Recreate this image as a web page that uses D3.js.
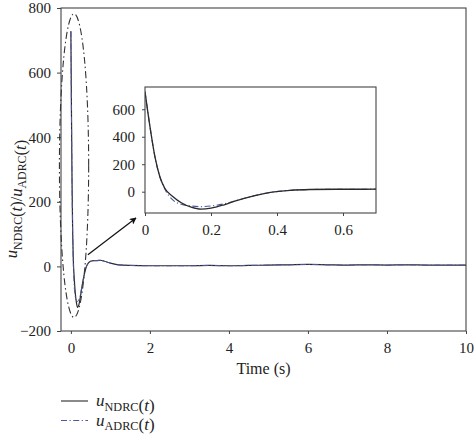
<!DOCTYPE html>
<html>
<head>
<meta charset="utf-8">
<script src="https://cdn.jsdelivr.net/npm/d3@7"></script>
<style>
  body { margin: 0; background: #fff; }
  text { font-family: "Liberation Serif", "DejaVu Serif", serif; fill: #222; }
</style>
</head>
<body>
<div id="chart-area"></div>
<script>
// data
const time = [0, 0.015, 0.03, 0.045, 0.06, 0.085, 0.11, 0.14, 0.17, 0.2, 0.24, 0.28, 0.33, 0.38, 0.44, 0.5, 0.58, 0.66, 0.75, 0.85, 1.0, 1.2, 1.5, 2.0, 2.5, 3, 3.5, 4, 4.5, 5, 5.5, 6, 6.5, 7, 7.5, 8, 8.5, 9, 9.5, 10]
const uNDRC = [728, 474, 255, 109, 25, -36, -80, -112, -127, -120, -95, -63, -30, -5, 10, 16, 18, 18, 19, 16, 10, 5, 3, 2, 2, 2, 3, 2, 3, 4, 5, 6, 5, 4, 5, 4, 5, 4, 4, 4]
const uADRC = [728, 474, 255, 109, 20, -62, -92, -104, -109, -104, -88, -62, -30, -5, 10, 16, 18, 18, 19, 16, 10, 5, 3, 2, 2, 2, 3, 2, 3, 4, 5, 6, 5, 4, 5, 4, 5, 4, 4, 4]
const xTicks = [0, 2, 4, 6, 8, 10]
const yTicks = [-200, 0, 200, 400, 600, 800]
const insetXTicks = [0, 0.2, 0.4, 0.6]
const insetYTicks = [0, 200, 400, 600]
const seriesNames = ["NDRC", "ADRC"]

const W = 474, H = 437
const MARGIN = { LEFT: 61, RIGHT: 8, TOP: 8, BOTTOM: 106 }
const WIDTH = W - MARGIN.LEFT - MARGIN.RIGHT
const HEIGHT = H - MARGIN.TOP - MARGIN.BOTTOM
const FONT = "Liberation Serif, DejaVu Serif, serif"

const svg = d3.select("#chart-area").append("svg")
    .attr("width", W)
    .attr("height", H)

const defs = svg.append("defs")
defs.append("marker")
    .attr("id", "arrow")
    .attr("viewBox", "0 0 10 10")
    .attr("refX", 9).attr("refY", 5)
    .attr("markerWidth", 7).attr("markerHeight", 7)
    .attr("markerUnits", "userSpaceOnUse")
    .attr("orient", "auto")
  .append("path")
    .attr("d", "M0,0 L10,5 L0,10 L2.5,5 Z")
    .attr("fill", "#111")

const g = svg.append("g")
    .attr("transform", `translate(${MARGIN.LEFT}, ${MARGIN.TOP})`)

// Scales
const x = d3.scaleLinear().range([0, WIDTH]).domain([-0.25, 10])
const y = d3.scaleLinear().range([HEIGHT, 0]).domain([-200, 800])

const styles = {
    NDRC: { color: "#2a2a2a", dash: null, width: 1.3 },
    ADRC: { color: "#4a58a0", dash: "6,2.5,1.2,2.5", width: 1.1 }
}

function styleAxis(sel) {
    sel.attr("font-family", FONT)
    sel.select(".domain").remove()
    sel.selectAll(".tick line").attr("stroke", "#444")
    sel.selectAll(".tick text").attr("font-size", "15px").attr("fill", "#222").attr("font-family", FONT)
}

// Axes
g.append("g")
    .attr("transform", `translate(0, ${HEIGHT})`)
    .call(d3.axisBottom(x).tickValues(xTicks).tickSize(3).tickPadding(8).tickFormat(d3.format("d")))
    .call(styleAxis)
g.append("g")
    .call(d3.axisLeft(y).tickValues(yTicks).tickSize(4).tickPadding(6).tickFormat(d => d < 0 ? "\u2212" + Math.abs(d) : d))
    .call(styleAxis)

g.append("rect")
    .attr("width", WIDTH).attr("height", HEIGHT)
    .attr("fill", "none").attr("stroke", "#444").attr("stroke-width", 1.1)

defs.append("clipPath").attr("id", "mainClip")
  .append("rect").attr("width", WIDTH).attr("height", HEIGHT)

const mainLine = vals => d3.line()
    .x((d, i) => x(time[i]))
    .y(d => y(d))
    .curve(d3.curveMonotoneX)(vals)

const mainPlot = g.append("g").attr("clip-path", "url(#mainClip)")
mainPlot.append("path")
    .attr("d", mainLine(uNDRC))
    .attr("fill", "none").attr("stroke", styles.NDRC.color).attr("stroke-width", 1.2)
mainPlot.append("path")
    .attr("d", mainLine(uADRC))
    .attr("fill", "none").attr("stroke", styles.ADRC.color).attr("stroke-width", 1)
    .attr("stroke-dasharray", styles.ADRC.dash)

// Ellipse marking the zoomed region
const ellipse = { t: 0.08, lo: -158, hi: 782, halfT: 0.37 }
g.append("ellipse")
    .attr("cx", x(ellipse.t))
    .attr("cy", (y(ellipse.lo) + y(ellipse.hi)) / 2)
    .attr("rx", x(ellipse.t + ellipse.halfT) - x(ellipse.t))
    .attr("ry", (y(ellipse.lo) - y(ellipse.hi)) / 2)
    .attr("fill", "none").attr("stroke", "#333").attr("stroke-width", 1.1)
    .attr("stroke-dasharray", "7,3,1.5,3")

// Inset
const INSET = { LEFT: 145, TOP: 87, WIDTH: 231, HEIGHT: 126 }
const ix = d3.scaleLinear().range([0, INSET.WIDTH]).domain([0, 0.7])
const iy = d3.scaleLinear().range([INSET.HEIGHT, 0]).domain([-155, 762])

// Arrow from the ellipse to the inset
svg.append("line")
    .attr("x1", MARGIN.LEFT + x(0.43)).attr("y1", MARGIN.TOP + y(36))
    .attr("x2", INSET.LEFT - 9).attr("y2", INSET.TOP + INSET.HEIGHT + 5)
    .attr("stroke", "#111").attr("stroke-width", 1.2)
    .attr("marker-end", "url(#arrow)")

const ig = svg.append("g")
    .attr("transform", `translate(${INSET.LEFT}, ${INSET.TOP})`)
ig.append("rect")
    .attr("width", INSET.WIDTH).attr("height", INSET.HEIGHT)
    .attr("fill", "#fff")
ig.append("g")
    .attr("transform", `translate(0, ${INSET.HEIGHT})`)
    .call(d3.axisBottom(ix).tickValues(insetXTicks).tickSize(3).tickPadding(8).tickFormat(d => d === 0 ? "0" : d3.format(".1f")(d)))
    .call(styleAxis)
ig.append("g")
    .call(d3.axisLeft(iy).tickValues(insetYTicks).tickSize(3).tickPadding(7).tickFormat(d3.format("d")))
    .call(styleAxis)

defs.append("clipPath").attr("id", "insetClip")
  .append("rect").attr("width", INSET.WIDTH).attr("height", INSET.HEIGHT)

const insetLine = vals => d3.line()
    .x((d, i) => ix(time[i]))
    .y(d => iy(d))
    .curve(d3.curveMonotoneX)(vals)

const insetPlot = ig.append("g").attr("clip-path", "url(#insetClip)")
insetPlot.append("path")
    .attr("d", insetLine(uADRC))
    .attr("fill", "none").attr("stroke", styles.ADRC.color).attr("stroke-width", styles.ADRC.width)
    .attr("stroke-dasharray", styles.ADRC.dash)
insetPlot.append("path")
    .attr("d", insetLine(uNDRC))
    .attr("fill", "none").attr("stroke", styles.NDRC.color).attr("stroke-width", styles.NDRC.width)

ig.append("rect")
    .attr("width", INSET.WIDTH).attr("height", INSET.HEIGHT)
    .attr("fill", "none").attr("stroke", "#444").attr("stroke-width", 1.1)

// Labels
g.append("text")
    .attr("x", WIDTH / 2)
    .attr("y", HEIGHT + 43)
    .attr("font-size", "16px")
    .attr("text-anchor", "middle")
    .text("Time (s)")

function mathLabel(sel, parts, size) {
    parts.forEach(p => {
        if (p.sub) {
            sel.append("tspan").attr("dy", size * 0.28).attr("font-size", size * 0.72 + "px").text(p.sub)
            sel.append("tspan").attr("dy", -size * 0.28).text("")
        } else {
            sel.append("tspan").attr("font-style", p.it ? "italic" : "normal").text(p.s)
        }
    })
}

const yLabel = g.append("text")
    .attr("transform", "rotate(-90)")
    .attr("x", -191)
    .attr("y", -44)
    .attr("font-size", "16.5px")
    .attr("text-anchor", "middle")
yLabel.call(mathLabel, [
    { s: "u", it: true }, { sub: "NDRC" }, { s: "(" }, { s: "t", it: true }, { s: ")/" },
    { s: "u", it: true }, { sub: "ADRC" }, { s: "(" }, { s: "t", it: true }, { s: ")" }
], 16.5)

// Legend
const legend = svg.append("g").attr("transform", "translate(61, 401)")
seriesNames.forEach((name, i) => {
    const row = legend.append("g").attr("transform", `translate(0, ${i * 19.5})`)
    row.append("line")
        .attr("x1", 0).attr("x2", 27)
        .attr("stroke", styles[name].color).attr("stroke-width", 1.1)
        .attr("stroke-dasharray", styles[name].dash)
    const t = row.append("text").attr("x", 35).attr("y", 5).attr("font-size", "17px")
    t.call(mathLabel, [{ s: "u", it: true }, { sub: name }, { s: "(" }, { s: "t", it: true }, { s: ")" }], 17)
})
</script>
</body>
</html>
